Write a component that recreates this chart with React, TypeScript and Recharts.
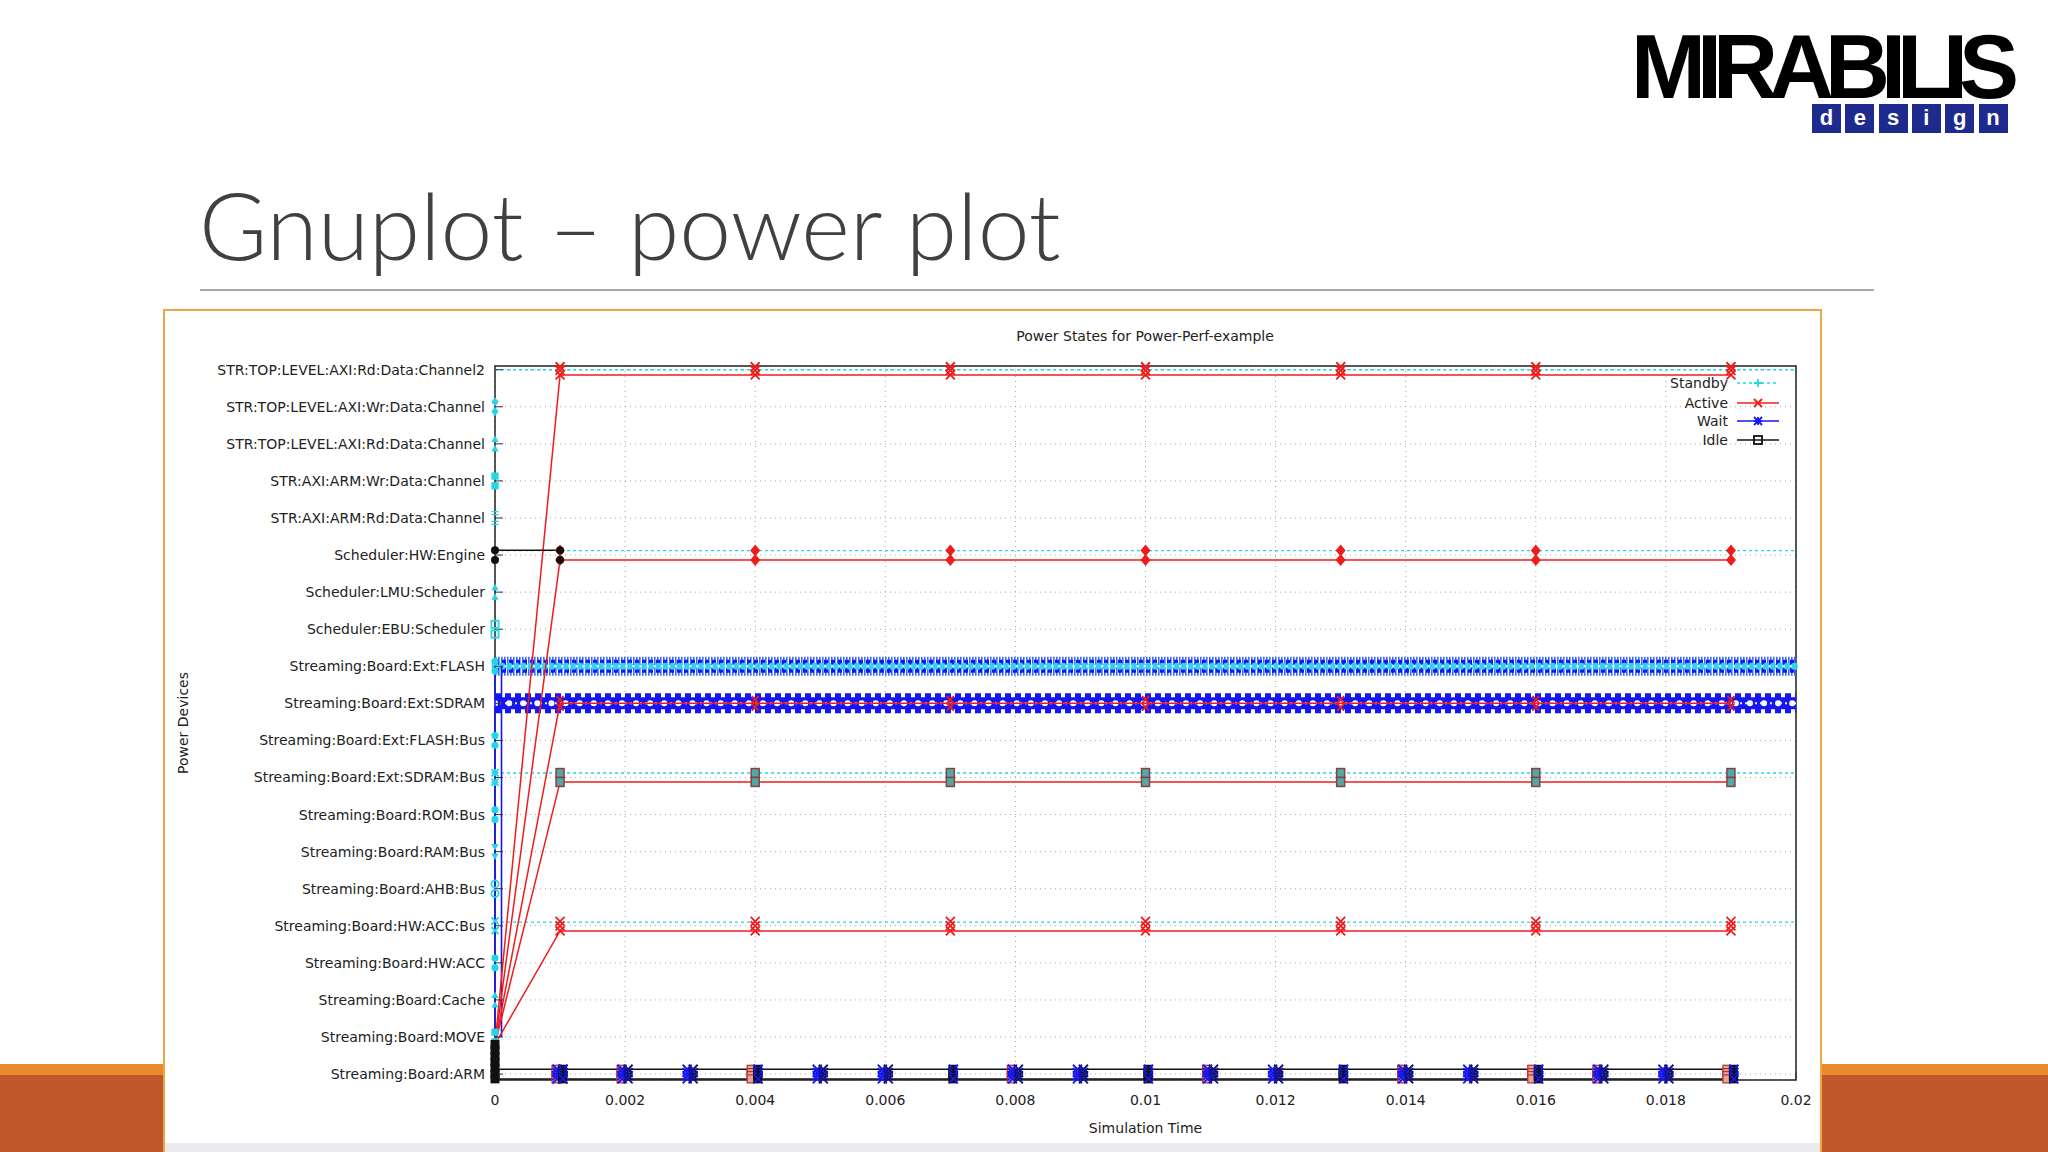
import React from "react";
import {
  ComposedChart,
  Line,
  Scatter,
  XAxis,
  YAxis,
  CartesianGrid,
  ReferenceArea,
  Legend,
} from "recharts";

// rows of the power plot, bottom to top
const devices = [
  "Streaming:Board:ARM",
  "Streaming:Board:MOVE",
  "Streaming:Board:Cache",
  "Streaming:Board:HW:ACC",
  "Streaming:Board:HW:ACC:Bus",
  "Streaming:Board:AHB:Bus",
  "Streaming:Board:RAM:Bus",
  "Streaming:Board:ROM:Bus",
  "Streaming:Board:Ext:SDRAM:Bus",
  "Streaming:Board:Ext:FLASH:Bus",
  "Streaming:Board:Ext:SDRAM",
  "Streaming:Board:Ext:FLASH",
  "Scheduler:EBU:Scheduler",
  "Scheduler:LMU:Scheduler",
  "Scheduler:HW:Engine",
  "STR:AXI:ARM:Rd:Data:Channel",
  "STR:AXI:ARM:Wr:Data:Channel",
  "STR:TOP:LEVEL:AXI:Rd:Data:Channel",
  "STR:TOP:LEVEL:AXI:Wr:Data:Channel",
  "STR:TOP:LEVEL:AXI:Rd:Data:Channel2",
];
const deviceTicks = devices.map((_, i) => i);

const timeTicks = [0, 0.002, 0.004, 0.006, 0.008, 0.01, 0.012, 0.014, 0.016, 0.018, 0.02];
const timeLabels = ["0", "0.002", "0.004", "0.006", "0.008", "0.01", "0.012", "0.014", "0.016", "0.018", "0.02"];
const timeSpan = [0, 0.02];

const stateNames = ["Standby", "Active", "Wait", "Idle"];

// Active: every device jumps from ~0.8 at t=0 to its row at 1 ms, then samples every 3 ms
const activeOrigin = 0.8;
const activeTimes = [0.001, 0.004, 0.007, 0.01, 0.013, 0.016, 0.019];
const activeLevels = [18.86, 13.87, 10, 7.88, 3.86];
const activeMarks = [
  [19.08, 18.98, 18.86],
  [14.12, 13.87],
  [10.1, 9.9],
  [8.12, 7.88],
  [4.12, 4.0, 3.86],
];

// Standby (cyan dotted) levels and the t=0 standby markers
const standbyLevels = [19.0, 14.12, 8.12, 4.1];
const standbyRows = [1, 2, 3, 4, 5, 6, 7, 8, 9, 11, 12, 13, 15, 16, 17, 18];
const standbyPair = [0.13, -0.13];

// Idle
const engineIdle = [14.13, 13.87];
const engineIdleTimes = [0, 0.001];
const armStartStack = [0.8, 0.64, 0.48, 0.32, 0.16, 0, -0.13];
const armLevels = [0.13, -0.13];
const armEnd = 0.019;
const armStack = [0.13, 0.04, -0.04, -0.13];
const armIdle = [0.001, 0.004, 0.007, 0.01, 0.013, 0.016, 0.019];
const armWait = [0.001, 0.002, 0.003, 0.005, 0.006, 0.008, 0.009, 0.011, 0.012, 0.014, 0.015, 0.017, 0.018];
const armActive = [0.001, 0.002, 0.004, 0.008, 0.011, 0.014, 0.016, 0.017, 0.019];

// Wait: FLASH / SDRAM busy for the whole run, blue drop lines near t=0
const flashRow = 11;
const sdramRow = 10;
const waitDropTimes = [0, 0.0001];
const waitDropRange = [1, 11];

const CYAN = "#22d6e6";
const RED = "#f01c1c";
const BLUE = "#1616f0";
const BLACK = "#111111";

const standbyGlyphs = ["square", "triUp", "dot", "x", "circle", "triDown", "dot", "star", "dot", "dot", "box", "triUp", "dash", "square", "triUp", "diamond"];

const span = (y: number) => timeSpan.map((t) => ({ t, y }));
const grid = (times: number[], ys: number[]) => times.flatMap((t) => ys.map((y) => ({ t, y })));

const activeLines = activeLevels.map((y) => [{ t: 0, y: activeOrigin }, ...activeTimes.map((t) => ({ t, y }))]);
const activePoints = activeMarks.map((ys) => grid(activeTimes, ys));
const standbyPoints = standbyRows.flatMap((row) => standbyPair.map((d) => ({ t: 0, y: row + d, row })));

function glyph(kind: string, cx: number, cy: number, color: string, r = 4) {
  const sw = 1.8;
  switch (kind) {
    case "x":
      return <path d={`M${cx - r} ${cy - r}L${cx + r} ${cy + r}M${cx - r} ${cy + r}L${cx + r} ${cy - r}`} stroke={color} strokeWidth={sw} fill="none" />;
    case "plus":
      return <path d={`M${cx - r} ${cy}H${cx + r}M${cx} ${cy - r}V${cy + r}`} stroke={color} strokeWidth={sw} fill="none" />;
    case "star":
      return (
        <path
          d={`M${cx - r} ${cy - r}L${cx + r} ${cy + r}M${cx - r} ${cy + r}L${cx + r} ${cy - r}M${cx - r} ${cy}H${cx + r}M${cx} ${cy - r}V${cy + r}`}
          stroke={color}
          strokeWidth={sw}
          fill="none"
        />
      );
    case "box":
      return <rect x={cx - r} y={cy - r} width={2 * r} height={2 * r} fill="none" stroke={color} strokeWidth={sw} />;
    case "square":
      return <rect x={cx - r} y={cy - r} width={2 * r} height={2 * r} fill={color} />;
    case "circle":
      return <circle cx={cx} cy={cy} r={r} fill="none" stroke={color} strokeWidth={sw} />;
    case "dot":
      return <circle cx={cx} cy={cy} r={r} fill={color} />;
    case "diamond":
      return <path d={`M${cx} ${cy - r - 1}L${cx + r} ${cy}L${cx} ${cy + r + 1}L${cx - r} ${cy}Z`} fill={color} />;
    case "triUp":
      return <path d={`M${cx} ${cy - r}L${cx + r} ${cy + r * 0.8}L${cx - r} ${cy + r * 0.8}Z`} fill={color} />;
    case "triDown":
      return <path d={`M${cx} ${cy + r}L${cx + r} ${cy - r * 0.8}L${cx - r} ${cy - r * 0.8}Z`} fill={color} />;
    default:
      return <path d={`M${cx - r} ${cy - 1.5}H${cx + r}M${cx - r} ${cy + 1.5}H${cx + r}`} stroke={color} strokeWidth={1.2} fill="none" />;
  }
}

const legendStyle = [
  { color: CYAN, dash: "3 3", kind: "plus" },
  { color: RED, dash: undefined, kind: "x" },
  { color: BLUE, dash: undefined, kind: "star" },
  { color: BLACK, dash: undefined, kind: "box" },
];

function PowerLegend() {
  const rows = [14, 34, 52, 71];
  return (
    <svg width={210} height={90} style={{ fontFamily: '"DejaVu Sans", sans-serif' }}>
      {stateNames.map((name, i) => (
        <g key={name}>
          <text x={145} y={rows[i]} dy="0.35em" textAnchor="end" fontSize={14} fill="#222">
            {name}
          </text>
          <line x1={154} x2={196} y1={rows[i]} y2={rows[i]} stroke={legendStyle[i].color} strokeWidth={1.5} strokeDasharray={legendStyle[i].dash} />
          {glyph(legendStyle[i].kind, 175, rows[i], legendStyle[i].color, 4)}
        </g>
      ))}
    </svg>
  );
}

const tickFont = { fontSize: 14, fill: "#222", fontFamily: '"DejaVu Sans", sans-serif' };

function PowerChart() {
  return (
    <ComposedChart width={1659} height={843} margin={{ top: 57, right: 25, bottom: 12, left: 32 }}>
      <CartesianGrid stroke="#a8a8a8" strokeDasharray="1 4" />
      <XAxis
        dataKey="t"
        type="number"
        domain={[0, 0.02]}
        ticks={timeTicks}
        tickFormatter={(v: number) => timeLabels[timeTicks.indexOf(v)] ?? String(v)}
        axisLine={false}
        tickSize={-8}
        tickMargin={23}
        height={60}
        tick={tickFont}
        tickLine={{ stroke: "#333" }}
        label={{ value: "Simulation Time", position: "insideBottom", offset: 7, style: tickFont }}
      />
      <YAxis
        dataKey="y"
        type="number"
        domain={[-0.16, 19.1]}
        ticks={deviceTicks}
        tickFormatter={(v: number) => devices[v]}
        axisLine={false}
        tickSize={-8}
        tickMargin={18}
        width={300}
        tick={tickFont}
        tickLine={{ stroke: "#333" }}
        interval={0}
        label={{ value: "Power Devices", angle: -90, position: "insideLeft", offset: -12, style: { ...tickFont, textAnchor: "middle" } }}
      />
      <YAxis
        yAxisId="r"
        orientation="right"
        type="number"
        domain={[-0.16, 19.1]}
        ticks={deviceTicks}
        tickFormatter={() => ""}
        axisLine={false}
        tickSize={-8}
        width={1}
        interval={0}
        tickLine={{ stroke: "#333" }}
      />
      <ReferenceArea x1={0} x2={0.02} y1={-0.16} y2={19.1} fill="none" fillOpacity={0} stroke="#222" strokeWidth={1.5} />

      {standbyLevels.map((y) => (
        <Line key={`sb${y}`} data={span(y)} dataKey="y" stroke={CYAN} strokeWidth={1.4} strokeDasharray="3 3" dot={false} activeDot={false} isAnimationActive={false} />
      ))}

      {/* FLASH band: blue stars with cyan circles */}
      <Line data={span(flashRow)} dataKey="y" stroke="#3a6cf4" strokeWidth={19} strokeDasharray="1.6 1.4" dot={false} activeDot={false} isAnimationActive={false} />
      <Line data={span(flashRow)} dataKey="y" stroke={BLUE} strokeWidth={13} strokeDasharray="4 3" dot={false} activeDot={false} isAnimationActive={false} />
      <Line data={span(flashRow)} dataKey="y" stroke="#34d2f0" strokeWidth={7} strokeDasharray="0.1 7" strokeLinecap="round" dot={false} activeDot={false} isAnimationActive={false} />
      <Line data={span(flashRow)} dataKey="y" stroke="#dff2ff" strokeWidth={2.5} strokeDasharray="0.1 7" strokeDashoffset={-3.5} strokeLinecap="round" dot={false} activeDot={false} isAnimationActive={false} />

      {/* SDRAM band */}
      <Line data={span(sdramRow)} dataKey="y" stroke={BLUE} strokeWidth={12} dot={false} activeDot={false} isAnimationActive={false} />
      <Line data={span(sdramRow)} dataKey="y" stroke={BLUE} strokeWidth={20} strokeDasharray="6 4" dot={false} activeDot={false} isAnimationActive={false} />
      <Line data={span(sdramRow)} dataKey="y" stroke="#ffffff" strokeWidth={6} strokeDasharray="0.1 14" strokeLinecap="round" dot={false} activeDot={false} isAnimationActive={false} />
      <Line data={span(sdramRow)} dataKey="y" stroke="#e8ecff" strokeWidth={2} strokeDasharray="2 3" dot={false} activeDot={false} isAnimationActive={false} />

      {waitDropTimes.map((t) => (
        <Line key={`wd${t}`} data={waitDropRange.map((y) => ({ t, y }))} dataKey="y" stroke={BLUE} strokeWidth={1.6} dot={false} activeDot={false} isAnimationActive={false} />
      ))}

      {activeLines.map((d, i) => (
        <Line key={`ac${i}`} data={d} dataKey="y" stroke={RED} strokeWidth={1.5} dot={false} activeDot={false} isAnimationActive={false} />
      ))}

      <Line data={engineIdleTimes.map((t) => ({ t, y: engineIdle[0] }))} dataKey="y" stroke={BLACK} strokeWidth={1.5} dot={false} activeDot={false} isAnimationActive={false} />
      {armLevels.map((y) => (
        <Line key={`arm${y}`} data={[0, armEnd].map((t) => ({ t, y }))} dataKey="y" stroke={BLACK} strokeWidth={1.5} dot={false} activeDot={false} isAnimationActive={false} />
      ))}

      <Scatter data={standbyPoints} isAnimationActive={false} shape={(p: any) => glyph(standbyGlyphs[standbyRows.indexOf(p.payload.row)], p.cx, p.cy, CYAN, 3.6)} />

      <Scatter data={activePoints[0]} isAnimationActive={false} shape={(p: any) => glyph("x", p.cx, p.cy, RED, 4.5)} />
      <Scatter data={activePoints[1]} isAnimationActive={false} shape={(p: any) => glyph("diamond", p.cx, p.cy, RED, 5)} />
      <Scatter data={activePoints[2]} isAnimationActive={false} shape={(p: any) => glyph("x", p.cx, p.cy, RED, 3.5)} />
      <Scatter
        data={activePoints[3]}
        isAnimationActive={false}
        shape={(p: any) => <rect x={p.cx - 4} y={p.cy - 4.5} width={8} height={9} fill="#4fa9a6" stroke="#8a4040" strokeWidth={1.5} />}
      />
      <Scatter data={activePoints[4]} isAnimationActive={false} shape={(p: any) => glyph("x", p.cx, p.cy, RED, 4.5)} />

      <Scatter data={grid(engineIdleTimes, engineIdle)} isAnimationActive={false} shape={(p: any) => glyph("dot", p.cx, p.cy, BLACK, 4)} />
      <Scatter data={armStartStack.map((y) => ({ t: 0, y }))} isAnimationActive={false} shape={(p: any) => glyph("square", p.cx, p.cy, BLACK, 4.5)} />

      <Scatter
        data={grid(armActive, armStack)}
        isAnimationActive={false}
        shape={(p: any) => <rect x={p.cx - 8} y={p.cy - 4} width={7} height={8} fill="#e6a49a" stroke="#b83030" strokeWidth={1.2} />}
      />
      <Scatter
        data={grid(armWait, armStack)}
        isAnimationActive={false}
        shape={(p: any) => (
          <g>
            {glyph("x", p.cx - 3, p.cy, BLUE, 4.5)}
            {glyph("x", p.cx + 3, p.cy, "#101080", 4.5)}
          </g>
        )}
      />
      <Scatter
        data={grid(armIdle, armStack)}
        isAnimationActive={false}
        shape={(p: any) => (
          <g>
            <rect x={p.cx - 2} y={p.cy - 4.5} width={9} height={9} fill={BLACK} />
            {glyph("x", p.cx + 3, p.cy, BLUE, 4.5)}
          </g>
        )}
      />

      <Legend
        layout="vertical"
        align="center"
        verticalAlign="middle"
        content={() => <PowerLegend />}
        wrapperStyle={{ position: "absolute", left: 1420, top: 60, width: 210, height: 90 }}
      />
    </ComposedChart>
  );
}

function Logo() {
  const letters = ["d", "e", "s", "i", "g", "n"];
  return (
    <>
      <div
        style={{
          position: "absolute",
          left: 1631,
          top: 32,
          fontFamily: '"Liberation Sans", Arial, sans-serif',
          fontWeight: 700,
          fontSize: 90,
          lineHeight: "70px",
          height: 70,
          letterSpacing: -9,
          color: "#000",
          whiteSpace: "nowrap",
        }}
      >
        MIRABILIS
      </div>
      {letters.map((l, i) => (
        <div
          key={i}
          style={{
            position: "absolute",
            left: 1812 + i * 33.3,
            top: 104,
            width: 29,
            height: 29,
            background: "#1e2a8e",
            color: "#fff",
            fontFamily: '"Liberation Sans", Arial, sans-serif',
            fontWeight: 700,
            fontSize: 22,
            lineHeight: "27px",
            textAlign: "center",
          }}
        >
          {l}
        </div>
      ))}
    </>
  );
}

export default function App() {
  return (
    <div style={{ position: "absolute", left: 0, top: 0, width: 2048, height: 1152, overflow: "hidden", background: "#fff" }}>
      <div style={{ position: "absolute", left: 0, top: 1064, width: 2048, height: 11, background: "#e98b2a" }} />
      <div style={{ position: "absolute", left: 0, top: 1075, width: 2048, height: 77, background: "#c0582b" }} />

      <Logo />

      <div
        style={{
          position: "absolute",
          left: 199,
          top: 178,
          fontFamily: "Lato, sans-serif",
          fontWeight: 300,
          fontSize: 93,
          lineHeight: 1,
          color: "#404040",
          whiteSpace: "nowrap",
        }}
      >
        Gnuplot – power plot
      </div>
      <div style={{ position: "absolute", left: 200, top: 289, width: 1674, height: 2, background: "#a8a8a8" }} />

      <div
        style={{
          position: "absolute",
          left: 163,
          top: 309,
          width: 1659,
          height: 870,
          boxSizing: "border-box",
          border: "2px solid #eda548",
          background: "#fff",
        }}
      />
      <div style={{ position: "absolute", left: 165, top: 1143, width: 1655, height: 9, background: "#ebebef" }} />

      <div style={{ position: "absolute", left: 163, top: 309 }}>
        <PowerChart />
      </div>

      <div
        style={{
          position: "absolute",
          left: 945,
          top: 327,
          width: 400,
          textAlign: "center",
          fontFamily: '"DejaVu Sans", sans-serif',
          fontSize: 14,
          lineHeight: "18px",
          color: "#222",
        }}
      >
        Power States for Power-Perf-example
      </div>
    </div>
  );
}
